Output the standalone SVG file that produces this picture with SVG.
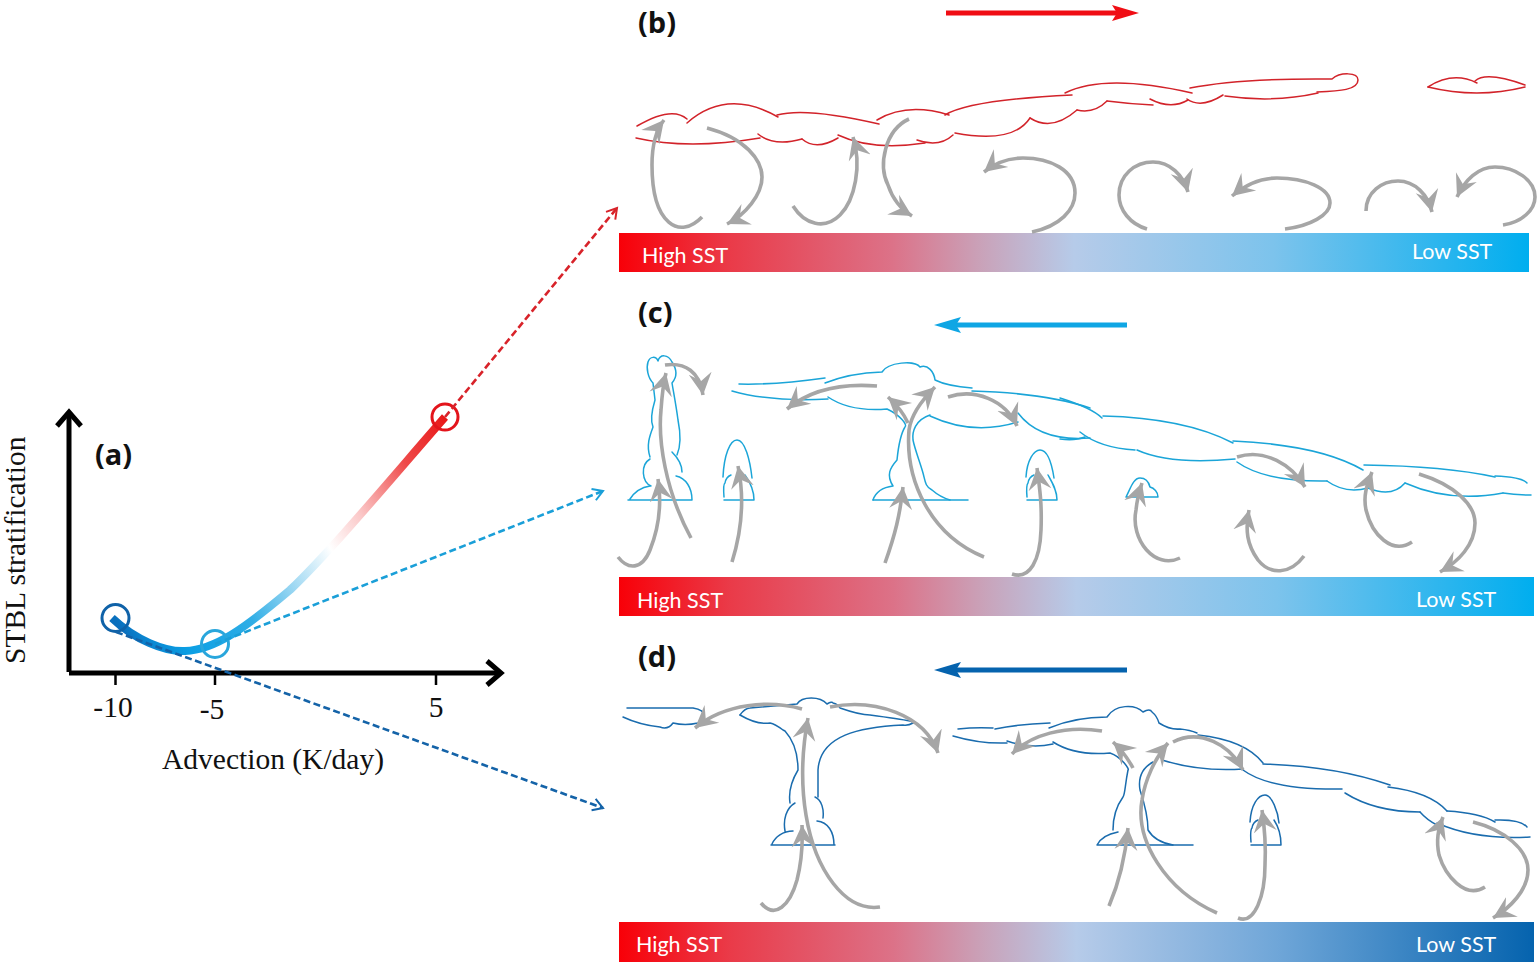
<svg xmlns="http://www.w3.org/2000/svg" width="1540" height="968" viewBox="0 0 1540 968">
<style>
.c{fill:none;stroke-width:1.5;stroke-linecap:round;stroke-linejoin:round}
.r{stroke:#d2232a}.b{stroke:#1ba5d8}.d{stroke:#1a6cae}
.g{fill:none;stroke:#a6a6a6;stroke-width:3.6;marker-end:url(#ga)}
.dash{fill:none;stroke-width:2.6;stroke-dasharray:7 3.500}
.sst{font-family:"Lato","Noto Sans",sans-serif;font-size:21.500px;fill:#fff}
.pl{font-family:"Open Sans","Noto Sans",sans-serif;font-size:29px;font-weight:700;fill:#111}
.ax{font-family:"Liberation Serif",serif;font-size:29.500px;fill:#111}
</style>
<defs>
<marker id="ga" markerUnits="userSpaceOnUse" markerWidth="28" markerHeight="28" refX="22" refY="14" orient="auto"><path d="M0 2.500 L22 14 L0 25.500 L8 14 Z" fill="#a6a6a6"/></marker>
<marker id="k" markerUnits="userSpaceOnUse" markerWidth="28" markerHeight="32" refX="22" refY="16" orient="auto"><path d="M8 4 L22 16 L8 28" fill="none" stroke="#000" stroke-width="5"/></marker>
<marker id="dr" markerUnits="userSpaceOnUse" markerWidth="16" markerHeight="16" refX="13" refY="8" orient="auto"><path d="M3 2 L13 8 L3 14" fill="none" stroke="#d8232a" stroke-width="2"/></marker>
<marker id="dc" markerUnits="userSpaceOnUse" markerWidth="16" markerHeight="16" refX="13" refY="8" orient="auto"><path d="M3 2 L13 8 L3 14" fill="none" stroke="#1a9fd8" stroke-width="2"/></marker>
<marker id="db" markerUnits="userSpaceOnUse" markerWidth="16" markerHeight="16" refX="13" refY="8" orient="auto"><path d="M3 2 L13 8 L3 14" fill="none" stroke="#1463a8" stroke-width="2"/></marker>
<linearGradient id="cv" gradientUnits="userSpaceOnUse" x1="115" y1="619" x2="445" y2="417">
<stop offset="0" stop-color="#0a6fbd"/><stop offset=".04" stop-color="#0a85d0"/><stop offset=".12" stop-color="#0b9fe4"/><stop offset=".3" stop-color="#30aee6"/><stop offset=".45" stop-color="#a8dcf4"/><stop offset=".57" stop-color="#fff"/><stop offset=".68" stop-color="#fbc9c9"/><stop offset=".85" stop-color="#ef4a4a"/><stop offset="1" stop-color="#e81818"/>
</linearGradient>
<linearGradient id="b1"><stop offset="0" stop-color="#f80008"/><stop offset=".12" stop-color="#ea3a48"/><stop offset=".3" stop-color="#dc7288"/><stop offset=".4" stop-color="#c9a3ba"/><stop offset=".5" stop-color="#b6cbe9"/><stop offset=".72" stop-color="#7cc3ec"/><stop offset="1" stop-color="#00aeef"/></linearGradient>
<linearGradient id="b2"><stop offset="0" stop-color="#f80008"/><stop offset=".12" stop-color="#ea3a48"/><stop offset=".3" stop-color="#dc7288"/><stop offset=".4" stop-color="#c9a3ba"/><stop offset=".5" stop-color="#b6cbe9"/><stop offset=".72" stop-color="#6fa6d8"/><stop offset="1" stop-color="#0563ae"/></linearGradient>
</defs>

<g id="panel-a">
<path d="M69 672 V412" fill="none" stroke="#000" stroke-width="5" marker-end="url(#k)"/>
<path d="M69 673 H501" fill="none" stroke="#000" stroke-width="5" marker-end="url(#k)"/>
<path d="M115.500 675 V685 M215 675 V685 M436 675 V685" stroke="#000" stroke-width="2.500" fill="none"/>
<path d="M112 618 C135 640 165 652 185 651 C215 650 245 628 290 590 C330 552 390 480 445 417" fill="none" stroke="url(#cv)" stroke-width="8"/>
<circle cx="445" cy="417" r="13" fill="none" stroke="#e3141b" stroke-width="3"/>
<circle cx="215" cy="644" r="13.500" fill="none" stroke="#29a6dc" stroke-width="3"/>
<circle cx="115.500" cy="618" r="13.500" fill="none" stroke="#0f62a8" stroke-width="3"/>
<text class="pl" x="95" y="465">(a)</text>
<text class="ax" x="113" y="717" text-anchor="middle">-10</text>
<text class="ax" x="212" y="719" text-anchor="middle">-5</text>
<text class="ax" x="436" y="717" text-anchor="middle">5</text>
<text class="ax" x="162" y="769">Advection (K/day)</text>
<text class="ax" transform="translate(25,664) rotate(-90)">STBL stratification</text>
</g>

<g id="connectors">
<path class="dash" d="M445 417 L617 208" stroke="#d8232a" marker-end="url(#dr)"/>
<path class="dash" d="M215 644 L603 491" stroke="#1a9fd8" marker-end="url(#dc)"/>
<path class="dash" d="M116 632 L603 808" stroke="#1463a8" marker-end="url(#db)"/>
</g>

<g id="panel-b">
<text class="pl" x="638" y="33">(b)</text>
<path d="M946 13 H1122" stroke="#f00d14" stroke-width="5" fill="none"/><path d="M1112 5 L1139 13 L1112 21 L1117 13 Z" fill="#f00d14"/>
<rect x="619" y="233" width="910" height="39" fill="url(#b1)"/>
<text class="sst" x="642" y="263">High SST</text>
<text class="sst" x="1412" y="259">Low SST</text>
<g id="cloud-b" class="c r">
<path d="M637 126 Q672 105.500 687 119"/>
<path d="M687 123 Q727 88 778 117"/>
<path d="M777 115 Q806 107 879 124"/>
<path d="M877 120 Q907 102 949 115"/>
<path d="M945 115 Q970 100 1072 95"/>
<path d="M1065 93 Q1105 73 1192 93"/>
<path d="M1190 88 Q1240 78 1332 79 C1340 72 1358 72 1358 80 C1358 90 1340 91 1317 92"/>
<path d="M636 138 Q688 150 760 138"/>
<path d="M758 134 Q774 147 802 139"/>
<path d="M802 139 Q816 151 838 138"/>
<path d="M838 135 Q872 151 925 143"/>
<path d="M917 140 Q939 148 953 135"/>
<path d="M955 133 Q1013 144 1030 118"/>
<path d="M1030 118 Q1052 132 1077 110"/>
<path d="M1077 110 Q1094 114 1107 101"/>
<path d="M1107 101 Q1130 104 1153 105"/>
<path d="M1150 99 Q1171 110 1188 100"/>
<path d="M1187 99 Q1201 109 1223 95"/>
<path d="M1225 96 Q1274 103 1318 93"/>
<path d="M1428 87 Q1453 71 1477 83"/>
<path d="M1475 81 Q1486 71 1525 85"/>
<path d="M1428 87 Q1477 99 1525 87"/>
</g>
<g id="flow-b">
<path class="g" d="M702 217 C680 240 652 225 652 165 C652 145 656 130 664 120"/>
<path class="g" d="M707 128 C745 138 762 160 762 177 C762 195 745 215 727 224"/>
<path class="g" d="M793 206 C805 225 825 230 840 215 C855 200 862 165 853 137"/>
<path class="g" d="M909 119 C885 130 878 165 888 185 C893 200 902 210 912 216"/>
<path class="g" d="M1032 232 C1060 226 1075 210 1075 193 C1075 170 1050 158 1023 158 C1008 158 995 163 984 172"/>
<path class="g" d="M1147 229 C1130 224 1119 210 1119 195 C1119 175 1135 162 1153 162 C1170 162 1183 175 1188 192"/>
<path class="g" d="M1285 229 C1310 226 1330 215 1330 203 C1330 188 1305 178 1277 178 C1260 178 1245 185 1232 196"/>
<path class="g" d="M1366 211 C1366 192 1382 181 1398 181 C1415 181 1428 195 1432 212"/>
<path class="g" d="M1503 225 C1522 222 1535 210 1535 197 C1535 180 1515 167 1495 167 C1478 167 1465 180 1457 197"/>
</g>
</g>

<g id="panel-c">
<text class="pl" x="638" y="323">(c)</text>
<path d="M1127 325 H950" stroke="#0fa6e4" stroke-width="5" fill="none"/><path d="M961 317 L934 325 L961 333 L956 325 Z" fill="#0fa6e4"/>
<rect x="619" y="577" width="915" height="39" fill="url(#b1)"/>
<text class="sst" x="637" y="608">High SST</text>
<text class="sst" x="1416" y="607">Low SST</text>
<g id="cloud-c" class="c b">
<path d="M628 500 H692 M630 499 Q637 488 650 486 M676 476 C686 478 692 488 692 500 M651 486 C642 482 640 465 650 459 M672 452 C678 458 682 464 682 472"/>
<path d="M650 457 C646 445 650 435 653 427 C650 420 652 410 655 400 L653 383 C648 378 646 368 648 362 C650 356 656 356 658 361 C660 354 668 354 672 362 C676 368 678 376 672 383 C674 395 676 405 678 420 C681 435 680 448 677 455"/>
<path d="M724 500 H754 M723 477 C724 455 730 440 737 440 C745 440 750 460 752 478 M724 497 Q723 484 725 483 Q726 477 731 475 M745 475 C750 482 754 490 754 500"/>
<path d="M1027 500 H1057 M1026 477 C1027 460 1034 450 1040 450 C1048 450 1052 465 1054 478 M1027 497 Q1026 485 1028 483 Q1029 477 1034 475 M1048 475 C1052 482 1057 490 1057 500"/>
<path d="M1126 497 H1158 M1126 497 C1130 490 1133 478 1140 478 C1146 478 1149 483 1150 487 C1154 488 1158 492 1158 497"/>
<path d="M739 384 Q775 385 825 378"/>
<path d="M825 383 Q850 373 882 372 C888 362 915 360 920 367 C928 364 934 372 935 380 Q947 386 972 388"/>
<path d="M972 391 Q1045 393 1090 408"/>
<path d="M1060 398 Q1092 408 1102 418"/>
<path d="M1103 416 Q1185 418 1233 443"/>
<path d="M1233 441 Q1320 445 1363 470"/>
<path d="M1364 465 Q1445 466 1495 477"/>
<path d="M1495 476 Q1522 477 1527 483"/>
<path d="M732 391 Q770 402 828 399"/>
<path d="M828 397 Q850 412 887 409 C900 415 908 425 905 427 C900 435 898 450 897 460 C890 468 886 475 893 486 Q877 488 873 500"/>
<path d="M873 500 H968"/>
<path d="M930 415 C915 420 912 432 913 440 C915 450 920 462 923 473 C925 480 925 487 932 490 Q940 497 950 500"/>
<path d="M930 416 Q973 436 1018 422"/>
<path d="M1018 413 Q1040 442 1090 438"/>
<path d="M1060 439 Q1075 441 1085 437"/>
<path d="M1080 432 Q1100 448 1135 450"/>
<path d="M1137 450 Q1170 465 1235 459"/>
<path d="M1237 462 Q1265 482 1327 481"/>
<path d="M1327 481 Q1345 494 1368 488"/>
<path d="M1368 488 Q1392 498 1405 483"/>
<path d="M1405 483 Q1450 503 1503 493"/>
<path d="M1503 493 Q1515 495 1531 495"/>
</g>
<g id="flow-c">
<path class="g" d="M618 557 C628 570 642 570 650 550 C658 530 662 505 658 479"/>
<path class="g" d="M691 538 C665 490 658 440 661 410 C662 395 663 385 666 373"/>
<path class="g" d="M665 365 C685 362 700 372 703 395"/>
<path class="g" d="M732 562 C742 530 745 500 738 466"/>
<path class="g" d="M877 386 C840 383 810 390 787 409"/>
<path class="g" d="M908 423 C903 412 897 405 888 397"/>
<path class="g" d="M885 563 C895 535 900 515 903 487"/>
<path class="g" d="M984 557 C930 535 905 480 909 430 C911 415 922 400 935 387"/>
<path class="g" d="M948 397 C975 388 1005 400 1017 426"/>
<path class="g" d="M1012 574 C1030 580 1040 560 1041 530 C1042 505 1040 490 1037 468"/>
<path class="g" d="M1180 558 C1155 570 1130 540 1136 510 C1137 500 1139 492 1142 483"/>
<path class="g" d="M1304 556 C1290 575 1270 575 1258 560 C1247 545 1245 530 1249 510"/>
<path class="g" d="M1412 542 C1392 555 1372 535 1366 510 C1363 495 1367 485 1372 472"/>
<path class="g" d="M1237 457 C1265 448 1292 465 1305 487"/>
<path class="g" d="M1419 474 C1455 485 1475 505 1475 523 C1475 545 1458 562 1440 572"/>
</g>
</g>

<g id="panel-d">
<text class="pl" x="638" y="667">(d)</text>
<path d="M1127 670 H950" stroke="#0563ae" stroke-width="5" fill="none"/><path d="M961 662 L934 670 L961 678 L956 670 Z" fill="#0563ae"/>
<rect x="619" y="922" width="915" height="40" fill="url(#b2)"/>
<text class="sst" x="636" y="952">High SST</text>
<text class="sst" x="1416" y="952">Low SST</text>
<g id="cloud-d" class="c d">
<path d="M627 708 H693 Q704 710 704 715 Q704 720 698 723 Q685 726 673 723 Q668 730 660 727 Q640 725 623 717"/>
<path d="M740 715 Q745 708 750 708 L797 704 C802 696 820 696 827 704 Q832 701 833 703 Q838 704 840 708 Q860 715 870 715 Q900 719 910 721 Q916 723 913 723 Q908 726 903 725 C860 727 820 735 818 770 L818 797"/>
<path d="M815 797 C822 800 824 810 823 818 M817 821 C828 822 834 832 834 845 M771 845 H835 M772 844 C775 837 783 831 793 831 M785 831 C783 820 786 808 795 803 M790 803 C788 790 792 780 798 770 C798 755 795 742 785 731 L783 730 Q775 724 770 723 Q757 725 740 715"/>
<path d="M958 729 Q975 727 993 728"/>
<path d="M995 729 Q1020 724 1050 723"/>
<path d="M1049 728 Q1075 717 1107 717 C1115 704 1135 704 1143 712 Q1150 708 1152 712 Q1157 716 1159 723 Q1170 730 1180 729 Q1190 730 1197 733"/>
<path d="M1198 735 Q1245 740 1263 763"/>
<path d="M1263 764 Q1335 766 1390 785"/>
<path d="M1388 787 Q1430 792 1447 811"/>
<path d="M1447 811 Q1480 813 1495 822"/>
<path d="M1495 820 Q1520 819 1527 827"/>
<path d="M953 736 Q980 744 1007 743"/>
<path d="M1007 741 Q1030 749 1053 744"/>
<path d="M1053 742 Q1075 756 1110 753 C1122 757 1130 770 1128 770 C1125 785 1125 795 1123 797 C1115 808 1113 820 1113 830 M1118 832 Q1102 835 1097 845 M1097 845 H1193"/>
<path d="M1153 762 C1142 768 1138 778 1140 790 C1145 805 1148 820 1148 830 Q1155 842 1173 845"/>
<path d="M1162 760 Q1200 772 1243 769"/>
<path d="M1243 770 Q1270 790 1342 789"/>
<path d="M1345 793 Q1375 812 1420 812"/>
<path d="M1420 812 Q1427 820 1437 825"/>
<path d="M1437 823 Q1475 840 1530 837"/>
<path d="M1251 845 H1281 M1250 822 C1251 805 1258 795 1265 795 C1272 795 1278 812 1279 823 M1251 842 Q1250 830 1252 828 Q1253 822 1258 820 M1274 820 C1278 826 1281 835 1281 845"/>
</g>
<g id="flow-d">
<path class="g" d="M802 709 C770 700 725 703 695 728"/>
<path class="g" d="M830 707 C875 698 925 715 938 753"/>
<path class="g" d="M761 903 C775 920 790 905 797 880 C802 860 803 845 802 825"/>
<path class="g" d="M880 907 C845 912 815 870 806 815 C801 785 802 750 808 718"/>
<path class="g" d="M1102 731 C1065 725 1030 735 1012 754"/>
<path class="g" d="M1133 768 C1127 757 1122 750 1113 742"/>
<path class="g" d="M1109 906 C1118 885 1125 860 1128 828"/>
<path class="g" d="M1217 913 C1165 890 1135 840 1142 800 C1145 780 1155 758 1168 743"/>
<path class="g" d="M1173 742 C1200 728 1230 745 1243 770"/>
<path class="g" d="M1238 918 C1255 925 1265 895 1265 865 C1266 845 1265 830 1262 810"/>
<path class="g" d="M1485 887 C1465 900 1445 875 1439 855 C1436 840 1438 830 1443 817"/>
<path class="g" d="M1473 822 C1505 830 1528 850 1528 870 C1528 890 1510 908 1493 918"/>
</g>
</g>
</svg>
